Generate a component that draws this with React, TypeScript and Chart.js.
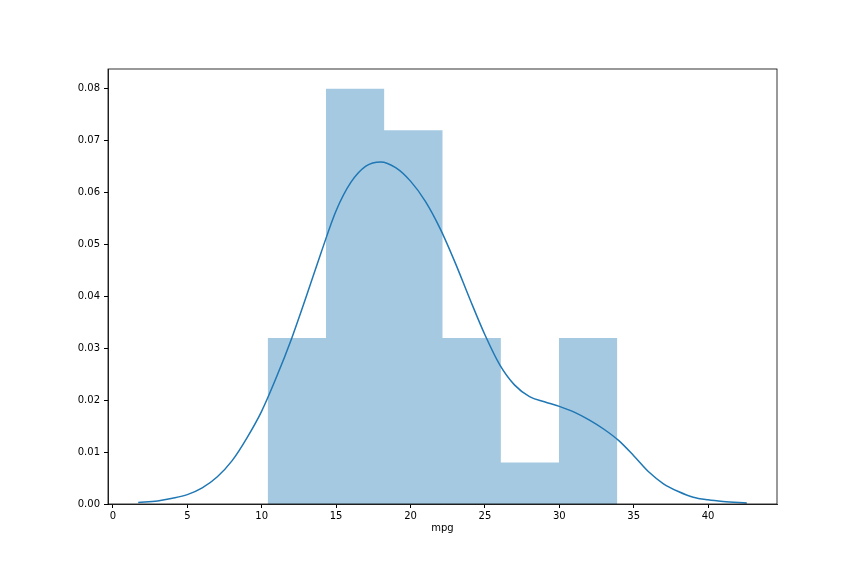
import React, { useEffect, useRef } from "react";
import { Chart, registerables } from "chart.js";

Chart.register(...registerables);

// histogram bins (density)
const binEdges = [10.4, 14.32, 18.23, 22.15, 26.07, 29.98, 33.9];
const binDensity = [0.032, 0.08, 0.072, 0.032, 0.008, 0.032];

// kde curve
const kdeX = [1.7, 3, 4, 5, 6, 7, 8, 9, 10, 11, 12, 13, 14, 15, 16, 17, 18, 19, 20, 21, 22, 23, 24, 25, 26, 27, 28, 29, 30, 31, 32, 33, 34, 35, 36, 37, 38, 39, 40, 41, 42.6];
const kdeY = [0.0003, 0.0006, 0.0011, 0.0018, 0.0031, 0.0052, 0.0083, 0.0127, 0.0179, 0.0245, 0.0318, 0.04, 0.0485, 0.0565, 0.062, 0.0651, 0.0659, 0.0648, 0.0622, 0.0583, 0.053, 0.0465, 0.0394, 0.0326, 0.0268, 0.0229, 0.0207, 0.0197, 0.0188, 0.0177, 0.0162, 0.0144, 0.0122, 0.0093, 0.0062, 0.0039, 0.0024, 0.0013, 0.0008, 0.0005, 0.0002];

const xTicks = [0, 5, 10, 15, 20, 25, 30, 35, 40];
const yTicks = [0, 0.01, 0.02, 0.03, 0.04, 0.05, 0.06, 0.07, 0.08];

const frame = {
  id: "frame",
  afterDraw(chart: any) {
    const { ctx, chartArea: a } = chart;
    ctx.save();
    ctx.strokeStyle = "#000";
    ctx.lineWidth = 0.8;
    ctx.strokeRect(a.left, a.top, a.right - a.left, a.bottom - a.top);
    ctx.restore();
  },
};

const App = () => {
  const canvasRef = useRef<HTMLCanvasElement | null>(null);
  const chartRef = useRef<Chart | null>(null);

  useEffect(() => {
    const ctx = canvasRef.current?.getContext("2d");
    if (!ctx) return;
    if (chartRef.current) chartRef.current.destroy();

    Chart.defaults.font.family = "'DejaVu Sans', sans-serif";
    Chart.defaults.font.size = 10;
    Chart.defaults.color = "#000";

    // step outline: each left edge carries its bin height, last edge closes it
    const histPoints = binEdges.map((x, i) => ({
      x,
      y: binDensity[Math.min(i, binDensity.length - 1)],
    }));
    const kdePoints = kdeX.map((x, i) => ({ x, y: kdeY[i] }));

    chartRef.current = new Chart(ctx, {
      type: "line",
      data: {
        datasets: [
          {
            data: kdePoints,
            borderColor: "#1f77b4",
            borderWidth: 1.5,
            pointRadius: 0,
            cubicInterpolationMode: "monotone",
            fill: false,
            order: 0,
          },
          {
            data: histPoints,
            stepped: "before",
            borderWidth: 0,
            borderColor: "rgba(0,0,0,0)",
            backgroundColor: "rgba(31,119,180,0.4)",
            pointRadius: 0,
            fill: "origin",
            order: 1,
          },
        ],
      },
      options: {
        animation: false,
        responsive: true,
        maintainAspectRatio: false,
        layout: { padding: { left: 0, top: 69, right: 87, bottom: 42 } },
        plugins: { legend: { display: false }, tooltip: { enabled: false } },
        scales: {
          x: {
            type: "linear",
            min: -0.33,
            max: 44.63,
            afterBuildTicks: (axis: any) => {
              axis.ticks = xTicks.map((v) => ({ value: v }));
            },
            afterFit: (axis: any) => {
              axis.height = 30;
            },
            ticks: { padding: 2, maxRotation: 0, autoSkip: false },
            grid: { drawOnChartArea: false, drawTicks: true, tickLength: 4, color: "#000" },
            border: { display: true, color: "#000", width: 0.8 },
            title: { display: true, text: "mpg", padding: 0, font: { size: 10 } },
          },
          y: {
            type: "linear",
            min: 0,
            max: 0.0838,
            afterBuildTicks: (axis: any) => {
              axis.ticks = yTicks.map((v) => ({ value: v }));
            },
            afterFit: (axis: any) => {
              axis.width = 108;
            },
            ticks: { padding: 4, callback: (v: any) => Number(v).toFixed(2) },
            grid: { drawOnChartArea: false, drawTicks: true, tickLength: 4, color: "#000" },
            border: { display: true, color: "#000", width: 0.8 },
          },
        },
      },
      plugins: [frame],
    });

    return () => {
      if (chartRef.current) {
        chartRef.current.destroy();
        chartRef.current = null;
      }
    };
  }, []);

  return (
    <div style={{ position: "fixed", left: 0, top: 0, width: "864px", height: "576px", background: "#fff" }}>
      <canvas ref={canvasRef} style={{ width: "100%", height: "100%" }}></canvas>
    </div>
  );
};

export default App;
